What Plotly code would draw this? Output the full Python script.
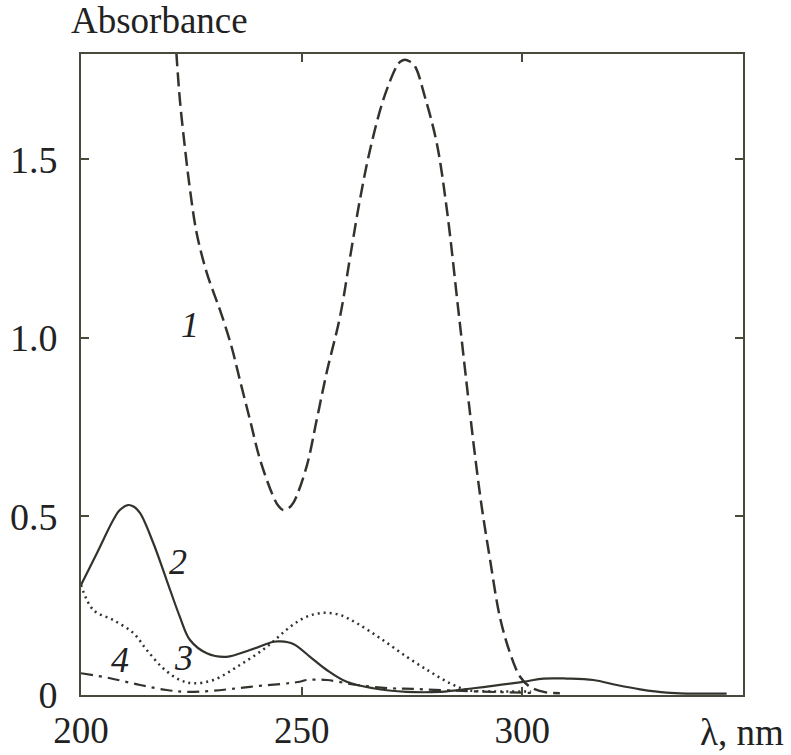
import plotly.graph_objects as go

# Curve 1 (dashed)
wl1 = [221.6, 222.4, 223.6, 224.7, 226.2, 228.5, 230.4, 231.5, 234.1, 236.0, 238.3, 240.6,
       243.6, 244.7, 245.8, 246.9, 248.1, 251.1, 253.4, 255.7, 258.7, 261.0, 263.2, 265.5,
       268.5, 271.5, 272.4, 273.4, 274.5, 275.7, 277.9, 280.6, 282.9, 285.5, 287.8, 289.3,
       290.8, 292.7, 294.9, 297.2, 299.5, 301.7, 305.1, 308.5]
ab1 = [1.80, 1.667, 1.527, 1.415, 1.294, 1.182, 1.115, 1.078, 0.976, 0.882, 0.770, 0.658,
       0.555, 0.530, 0.518, 0.522, 0.538, 0.639, 0.770, 0.905, 1.060, 1.228, 1.387, 1.527,
       1.667, 1.760, 1.774, 1.779, 1.774, 1.760, 1.676, 1.546, 1.359, 1.078, 0.826, 0.668,
       0.527, 0.378, 0.219, 0.118, 0.051, 0.023, 0.008, 0.005]

# Curve 2 (solid)
wl2 = [200.0, 203.6, 207.3, 208.8, 210.7, 212.0, 213.4, 216.4, 219.4, 222.4, 224.7, 228.5,
       233.0, 238.3, 243.6, 245.1, 248.1, 251.9, 255.7, 260.2, 266.2, 273.8, 281.4, 288.9,
       300.2, 304.8, 310.1, 316.1, 321.4, 326.7, 332.7, 337.3, 346.3]
ab2 = [0.308, 0.397, 0.490, 0.518, 0.532, 0.527, 0.509, 0.425, 0.322, 0.219, 0.154, 0.117,
       0.107, 0.126, 0.149, 0.150, 0.143, 0.107, 0.070, 0.037, 0.019, 0.009, 0.009, 0.019,
       0.037, 0.046, 0.046, 0.042, 0.028, 0.016, 0.0065, 0.004, 0.004]

# Curve 3 (dotted)
wl3 = [200.0, 202.8, 207.3, 211.9, 214.9, 218.6, 222.4, 225.4, 230.0, 236.0, 242.1, 247.4,
       251.1, 254.9, 258.7, 262.5, 267.8, 273.8, 279.1, 283.6, 287.4, 293.0, 302.0]
ab3 = [0.308, 0.238, 0.210, 0.173, 0.126, 0.075, 0.042, 0.033, 0.042, 0.084, 0.135, 0.191,
       0.219, 0.230, 0.224, 0.201, 0.159, 0.107, 0.065, 0.033, 0.014, 0.010, 0.010]

# Curve 4 (dash-dot)
wl4 = [200.0, 206.6, 213.4, 219.4, 224.0, 230.0, 238.3, 249.6, 251.1, 255.7, 262.5, 270.0,
       275.3, 285.0, 295.0, 302.0]
ab4 = [0.061, 0.047, 0.028, 0.014, 0.009, 0.012, 0.023, 0.037, 0.042, 0.042, 0.028, 0.019,
       0.017, 0.012, 0.008, 0.006]

curve_labels = ["1", "2", "3", "4"]
label_wl = [224.7, 222.0, 223.2, 208.8]
label_ab = [1.036, 0.373, 0.103, 0.098]

x_ticks = [200, 250, 300]
y_ticks = [0, 0.5, 1.0, 1.5]
y_ticktext = ["0", "0.5", "1.0", "1.5"]

LC = "#33332e"
AX = "#4a4a3c"
FONT = "Liberation Serif"

fig = go.Figure()
fig.add_trace(go.Scatter(x=wl1, y=ab1, mode="lines",
                         line=dict(color=LC, width=2.5, dash="14px,6px", shape="spline", smoothing=1.0)))
fig.add_trace(go.Scatter(x=wl2, y=ab2, mode="lines",
                         line=dict(color=LC, width=2.2, shape="spline", smoothing=1.0)))
fig.add_trace(go.Scatter(x=wl3, y=ab3, mode="lines",
                         line=dict(color=LC, width=2.5, dash="2px,4px", shape="spline", smoothing=1.0)))
fig.add_trace(go.Scatter(x=wl4, y=ab4, mode="lines",
                         line=dict(color=LC, width=2.2, dash="12px,6px,3px,6px", shape="spline", smoothing=1.0)))

for t, lx, ly in zip(curve_labels, label_wl, label_ab):
    fig.add_annotation(x=lx, y=ly, text="<i>" + t + "</i>", showarrow=False,
                       font=dict(family=FONT, size=36, color="#222"))

fig.add_annotation(xref="paper", yref="paper", x=0.119, y=1.052, text="Absorbance",
                   showarrow=False, xanchor="center", yanchor="middle",
                   font=dict(family=FONT, size=37, color="#222"))
fig.add_annotation(xref="paper", yref="paper", x=0.932, y=-0.058, text="λ, nm",
                   showarrow=False, xanchor="left", yanchor="middle",
                   font=dict(family=FONT, size=37, color="#222"))

fig.update_xaxes(range=[200, 350], tickvals=x_ticks, ticktext=[str(v) for v in x_ticks],
                 ticks="inside", ticklen=8, tickwidth=1.5, tickcolor=AX,
                 showline=True, linecolor=AX, linewidth=2, mirror="ticks",
                 showgrid=False, zeroline=False, ticklabelstandoff=2, automargin=False,
                 tickfont=dict(family=FONT, size=37, color="#222"))
fig.update_yaxes(range=[0, 1.795], tickvals=y_ticks, ticktext=y_ticktext,
                 ticks="inside", ticklen=8, tickwidth=1.5, tickcolor=AX,
                 showline=True, linecolor=AX, linewidth=2, mirror="ticks",
                 showgrid=False, zeroline=False, ticklabelstandoff=14, automargin=False,
                 tickfont=dict(family=FONT, size=38, color="#222"))

fig.update_layout(width=791, height=755, showlegend=False,
                  margin=dict(l=81, r=48, t=54, b=60),
                  plot_bgcolor="white", paper_bgcolor="white")

fig.write_html("out.html")
